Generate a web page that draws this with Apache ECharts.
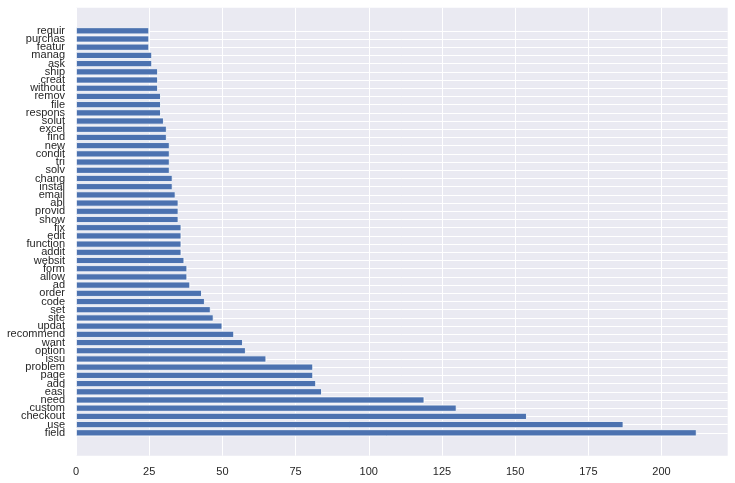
<!DOCTYPE html>
<html>
<head>
<meta charset="utf-8">
<script src="https://cdn.jsdelivr.net/npm/echarts@6/dist/echarts.min.js"></script>
<style>
html,body{margin:0;padding:0;background:#fff;}
#chart{width:735px;height:483px;}
</style>
</head>
<body>
<div id="chart"></div>
<script>
// categories listed bottom-to-top (axis order)
const categories = ['field','use','checkout','custom','need','easi','add','page','problem','issu',
  'option','want','recommend','updat','site','set','code','order','ad','allow',
  'form','websit','addit','function','edit','fix','show','provid','abl','email',
  'instal','chang','solv','tri','condit','new','find','excel','solut','respons',
  'file','remov','without','creat','ship','ask','manag','featur','purchas','requir'];
const counts = [212,187,154,130,119,84,82,81,81,65,
  58,57,54,50,47,46,44,43,39,38,
  38,37,36,36,36,36,35,35,35,34,
  33,33,32,32,32,32,31,31,30,29,
  29,29,28,28,28,26,26,25,25,25];
const xTicks = [0,25,50,75,100,125,150,175,200];

const xMax = 222.6;
const font = "'Liberation Sans', Arial, sans-serif";
const textColor = '#262626';

const chart = echarts.init(document.getElementById('chart'), null, {renderer: 'canvas'});
chart.setOption({
  animation: false,
  backgroundColor: '#ffffff',
  grid: [
    {left: 76, right: 7.3, top: 7.7, bottom: 27.3, show: true, backgroundColor: '#EAEAF2', borderWidth: 0},
    {left: 76, right: 7.3, top: 30.8, bottom: 50.2, show: false}
  ],
  xAxis: [
    {
      type: 'value', gridIndex: 0, min: 0, max: xMax, interval: 25,
      axisLine: {show: false}, axisTick: {show: false},
      axisLabel: {
        color: textColor, fontSize: 11, fontFamily: font, margin: 11,
        showMaxLabel: false,
        formatter: v => (xTicks.indexOf(v) >= 0 ? String(v) : '')
      },
      splitLine: {show: true, showMaxLine: false, showMinLine: true, lineStyle: {color: '#ffffff', width: 1}}
    },
    {
      type: 'value', gridIndex: 1, min: 0, max: xMax, interval: 25,
      show: false, splitLine: {show: false}
    }
  ],
  yAxis: [
    {type: 'value', gridIndex: 0, show: false, splitLine: {show: false}},
    {
      type: 'category', gridIndex: 1, data: categories, boundaryGap: false,
      axisLine: {show: false}, axisTick: {show: false},
      axisLabel: {interval: 0, color: textColor, fontSize: 11, fontFamily: font, margin: 11},
      splitLine: {show: true, interval: 0, lineStyle: {color: '#ffffff', width: 1}}
    }
  ],
  series: [{
    type: 'bar', xAxisIndex: 1, yAxisIndex: 1,
    data: counts, barWidth: 7, clip: false,
    itemStyle: {color: '#4C72B0', borderColor: '#ffffff', borderWidth: 0.8}
  }]
});
</script>
</body>
</html>
